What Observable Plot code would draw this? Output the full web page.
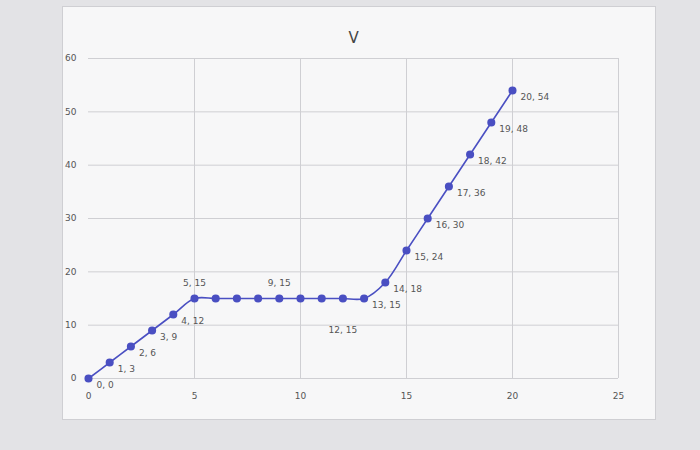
<!DOCTYPE html>
<html>
<head>
<meta charset="utf-8">
<script src="https://cdn.jsdelivr.net/npm/d3@7"></script>
<script src="https://cdn.jsdelivr.net/npm/@observablehq/plot@0.6"></script>
<style>
  html, body { margin: 0; padding: 0; background: #e3e3e6; width: 700px; height: 450px; overflow: hidden; }
  #wrap { position: relative; width: 700px; height: 450px; }
  #box { position: absolute; left: 62px; top: 6px; width: 592px; height: 412px; background: #f7f7f8; border: 1px solid #cfcfd3; }
  #chart { position: absolute; left: 0; top: 0; }
</style>
</head>
<body>
<div id="wrap"><div id="box"></div><div id="chart"></div></div>
<script>
const xValues = [0, 1, 2, 3, 4, 5, 6, 7, 8, 9, 10, 11, 12, 13, 14, 15, 16, 17, 18, 19, 20];
const yValues = [0, 3, 6, 9, 12, 15, 15, 15, 15, 15, 15, 15, 15, 15, 18, 24, 30, 36, 42, 48, 54];
const labelledX = [0, 1, 2, 3, 4, 5, 9, 12, 13, 14, 15, 16, 17, 18, 19, 20];
const xTicks = [0, 5, 10, 15, 20, 25];
const yTicks = [0, 10, 20, 30, 40, 50, 60];
const chartTitle = "V";

const points = xValues.map((x, i) => ({x, y: yValues[i]}));
const labels = points.filter(p => labelledX.includes(p.x)).map(p => ({...p, text: `${p.x}, ${p.y}`}));

// label placement (style only)
const above = new Set([5, 9]);
const farBelow = new Set([12]);
const lblRight = labels.filter(d => !above.has(d.x) && !farBelow.has(d.x));
const lblAbove = labels.filter(d => above.has(d.x));
const lblBelow = labels.filter(d => farBelow.has(d.x));

const color = "#4a4fc2";
const textColor = "#555";
const font = "DejaVu Sans, sans-serif";

const chart = Plot.plot({
  width: 700,
  height: 450,
  marginLeft: 88,
  marginRight: 82,
  marginTop: 58,
  marginBottom: 72,
  style: {background: "transparent", fontFamily: font, fontSize: "9px", color: textColor},
  x: {domain: [0, 25], ticks: xTicks, tickSize: 0, tickPadding: 14, label: null},
  y: {domain: [0, 60], ticks: yTicks, tickSize: 0, tickPadding: 12, label: null},
  marks: [
    Plot.gridX(xTicks.slice(1), {stroke: "#cfcfd3", strokeOpacity: 1}),
    Plot.gridY(yTicks.slice(1), {stroke: "#cfcfd3", strokeOpacity: 1}),
    Plot.ruleY([0], {stroke: "#cfcfd3"}),
    Plot.axisX({ticks: xTicks, tickSize: 0, tickPadding: 14, fill: textColor, fontSize: 9}),
    Plot.axisY({ticks: yTicks, tickSize: 0, tickPadding: 12, fill: textColor, fontSize: 9}),
    Plot.line(points, {x: "x", y: "y", stroke: color, strokeWidth: 1.6, curve: "catmull-rom"}),
    Plot.dot(points, {x: "x", y: "y", r: 3.3, fill: color, stroke: color}),
    Plot.text(lblRight, {x: "x", y: "y", text: "text", dx: 8, dy: 7, textAnchor: "start", fill: textColor, fontSize: 9}),
    Plot.text(lblAbove, {x: "x", y: "y", text: "text", dy: -15, textAnchor: "middle", fill: textColor, fontSize: 9}),
    Plot.text(lblBelow, {x: "x", y: "y", text: "text", dy: 32, textAnchor: "middle", fill: textColor, fontSize: 9}),
    Plot.text([chartTitle], {frameAnchor: "top", dy: -26, text: d => d, fill: "#444", fontSize: 15})
  ]
});
document.getElementById("chart").append(chart);
</script>
</body>
</html>
